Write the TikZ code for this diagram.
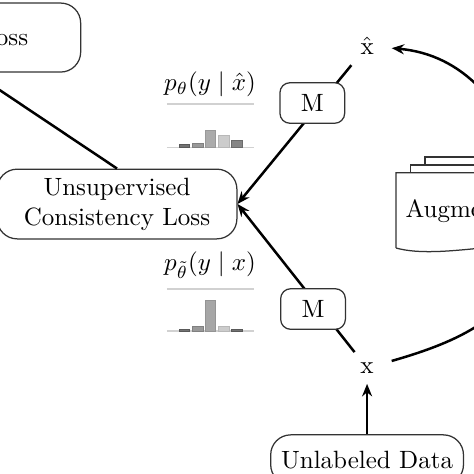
\documentclass[tikz,border=0pt]{standalone}
\usepackage{amsmath,amssymb}
\usepackage{tikz}
\usetikzlibrary{arrows.meta,positioning}

\begin{document}
\begin{tikzpicture}[
    box/.style={rectangle, draw=black!80, line width=0.5pt, rounded corners=8pt, fill=white, align=center},
    mbox/.style={rectangle, draw=black!80, line width=0.5pt, rounded corners=4pt, fill=white, minimum width=0.91cm, minimum height=0.57cm},
    datapt/.style={inner xsep=7pt, inner ysep=4pt},
    flow/.style={->, line width=1pt},
    divider/.style={black!18, line width=0.5pt},
    histbar/.style={line width=0.3pt},
    sheet/.style={draw=black!80, line width=0.5pt, fill=white},
    >={Stealth[length=5pt,width=4pt]}
]
    \useasboundingbox (0,0) rectangle (6.663,6.663);

    % Losses
    \node[box, minimum width=2.15cm, minimum height=0.97cm] (loss) at (0.059,6.135) {Loss};
    \node[box, minimum width=3.37cm, minimum height=0.98cm] (uloss) at (1.645,3.795) {Unsupervised\\Consistency Loss};
    \draw[line width=1pt] (uloss.north) -- (loss.229);

    % Data
    \node[box, minimum width=2.71cm, minimum height=0.70cm] (data) at (5.16,0.20) {Unlabeled Data};
    \node[datapt] (x) at (5.16,1.490) {$\mathrm{x}$};
    \node[datapt] (xhat) at (5.16,6.016) {$\hat{\mathrm{x}}$};
    \draw[flow] (data) -- (x);

    % Augmentation
    \draw[sheet] (5.974,3.401) rectangle (8.41,4.455);
    \draw[sheet] (5.770,3.289) rectangle (8.20,4.345);
    \draw[sheet] (5.566,3.177) -- (5.566,4.235) -- (8.0,4.235) -- (8.0,3.177) .. controls (7.3,3.35) and (6.2,3.0) .. (5.566,3.177);
    \node[anchor=north west, minimum width=2.434cm, minimum height=1.058cm] (aug) at (5.566,4.235) {Augmentation};
    \draw[flow] (x) to[out=16, in=-105] (aug.-38);
    \draw[flow] (aug.40) to[out=109, in=-5] (xhat);

    % Model
    \draw[flow] (xhat) -- (uloss.east);
    \draw[flow] (x) -- (uloss.east);
    \node[mbox] (mtop) at (4.39,5.215) {M};
    \node[mbox] (mbot) at (4.40,2.319) {M};

    % Predictions
    \node (ptop) at (2.952,5.482) {$p_{\theta}(y \mid \hat{x})$};
    \draw[divider] (2.347,5.201) -- (3.570,5.201);
    \draw[divider] (2.347,4.592) -- (3.570,4.592);
    \filldraw[histbar, fill=black!55, draw=black!65] (2.516,4.592) rectangle (2.666,4.634);
    \filldraw[histbar, fill=black!40, draw=black!50] (2.703,4.592) rectangle (2.853,4.648);
    \filldraw[histbar, fill=black!33, draw=black!40] (2.881,4.592) rectangle (3.032,4.835);
    \filldraw[histbar, fill=black!20, draw=black!28] (3.068,4.592) rectangle (3.219,4.761);
    \filldraw[histbar, fill=black!48, draw=black!58] (3.257,4.592) rectangle (3.407,4.686);

    \node (pbot) at (2.952,2.938) {$p_{\tilde{\theta}}(y \mid x)$};
    \draw[divider] (2.347,2.600) -- (3.570,2.600);
    \draw[divider] (2.347,2.010) -- (3.570,2.010);
    \filldraw[histbar, fill=black!55, draw=black!65] (2.516,2.010) rectangle (2.666,2.038);
    \filldraw[histbar, fill=black!40, draw=black!50] (2.703,2.010) rectangle (2.853,2.080);
    \filldraw[histbar, fill=black!35, draw=black!42] (2.881,2.010) rectangle (3.032,2.436);
    \filldraw[histbar, fill=black!20, draw=black!28] (3.068,2.010) rectangle (3.219,2.080);
    \filldraw[histbar, fill=black!55, draw=black!65] (3.257,2.010) rectangle (3.407,2.038);
\end{tikzpicture}
\end{document}
